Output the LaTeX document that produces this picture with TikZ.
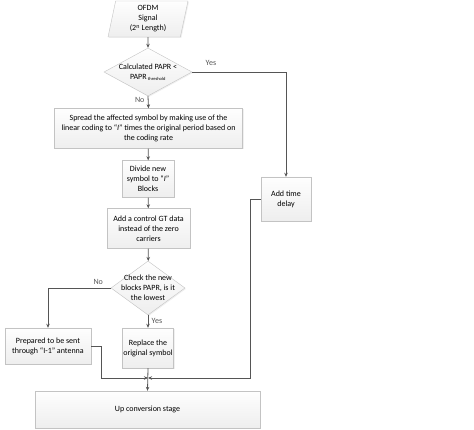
\documentclass[tikz,border=0pt]{standalone}
\usepackage{fontspec}
\setmainfont{Carlito}
\usetikzlibrary{positioning,arrows.meta,shapes.geometric,shadows}
\definecolor{fcLine}{RGB}{85,85,85}
\definecolor{fcBorder}{RGB}{195,195,195}
\definecolor{fcTop}{RGB}{254,254,254}
\definecolor{fcBot}{RGB}{238,238,238}

\begin{document}
\begin{tikzpicture}[x=1pt, y=-1pt,
  font=\fontsize{8}{10}\selectfont,
  stepbox/.style={rectangle, draw=fcBorder, top color=fcTop, bottom color=fcBot,
    align=center, inner sep=1pt,
    drop shadow={shadow xshift=1pt, shadow yshift=-1pt, opacity=0.12}},
  decide/.style={diamond, draw=fcBorder, top color=fcTop, bottom color=fcBot,
    align=center, inner sep=-6pt, aspect=1.6,
    drop shadow={shadow xshift=1pt, shadow yshift=-1pt, opacity=0.12}},
  ioshape/.style={trapezium, trapezium left angle=75, trapezium right angle=105,
    trapezium stretches body, draw=fcBorder, top color=fcTop, bottom color=fcBot,
    align=center, inner sep=1pt,
    drop shadow={shadow xshift=1pt, shadow yshift=-1pt, opacity=0.12}},
  flow/.style={fcLine, line width=0.8pt, -{Stealth[length=4pt, width=3.5pt]}},
  link/.style={fcLine, line width=0.8pt}]
  \useasboundingbox (0,0) rectangle (474,430);

  % Input and first test
  \node[ioshape, minimum width=80pt, minimum height=36pt] (sig) at (148,19)
    {OFDM\\Signal\\(2\textsuperscript{n} Length)};
  \node[decide, minimum width=88pt, minimum height=48pt] (chk1) at (148,72)
    {Calculated PAPR <\\PAPR\,\textsubscript{\fontsize{4.5}{5}\selectfont threshold}};

  % Main branch
  \node[stepbox, minimum width=188pt, minimum height=40pt] (spread) at (148.5,128.5)
    {Spread the affected symbol by making use of the\\linear coding to ``\textit{I}'' times the original period based on\\the coding rate};
  \node[stepbox, minimum width=52pt, minimum height=37pt] (divide) at (148,179)
    {Divide new\\symbol to ``\textit{I}''\\Blocks};
  \node[stepbox, minimum width=83pt, minimum height=40pt] (gt) at (148.5,228.5)
    {Add a control GT data\\instead of the zero\\carriers};
  \node[decide, minimum width=74pt, minimum height=54pt] (chk2) at (148,288)
    {Check the new\\blocks PAPR, is it\\the lowest};
  \node[stepbox, minimum width=86pt, minimum height=36pt] (prep) at (48,346)
    {Prepared to be sent\\through ``I-1'' antenna};
  \node[stepbox, minimum width=50pt, minimum height=40pt] (repl) at (148,348)
    {Replace the\\original symbol};

  % Side branch
  \node[stepbox, minimum width=50pt, minimum height=44pt] (delay) at (286,199)
    {Add time\\delay};

  % Output
  \node[stepbox, minimum width=225pt, minimum height=37pt] (up) at (147.5,409.5)
    {Up conversion stage};
  \coordinate (mrg) at (148,378);

  % Connectors
  \draw[flow] (chk1.east) -| node[pos=0.1, above, yshift=3pt] {Yes} (delay.north);
  \draw[flow] (sig) -- (chk1);
  \draw[flow] (chk1.south) -- node[pos=0.35, left] {No} (spread.north);
  \draw[flow] (spread) -- (divide);
  \draw[flow] (divide) -- (gt);
  \draw[flow] (gt) -- (chk2);
  \draw[flow] (chk2.west) -| node[pos=0.1, above] {No} (prep.north);
  \draw[flow] (chk2.south) -- node[pos=0.45, right] {Yes} (repl.north);
  \draw[flow] (repl.south) -- (up.north);
  \draw[flow] (prep.east) -- ++(10,0) |- (mrg);
  \draw[flow] (delay.west) -- ++(-10,0) |- (mrg);
\end{tikzpicture}
\end{document}
